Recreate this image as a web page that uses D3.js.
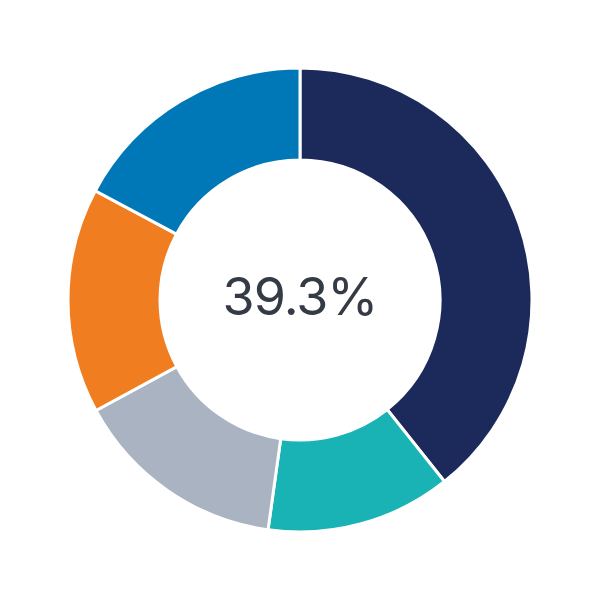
<!DOCTYPE html>
<html>
<head>
<meta charset="utf-8">
<style>
  body { margin: 0; background: #fff; }
</style>
</head>
<body>
<svg id="chart" width="600" height="600"></svg>
<script src="https://d3js.org/d3.v7.min.js"></script>
<script>
    const WIDTH = 600;
    const HEIGHT = 600;

    // segments clockwise from 12 o'clock
    const categories = ['A', 'B', 'C', 'D', 'E'];
    const values = [39.3, 12.9, 14.9, 15.7, 17.2];
    const colors = ['#1b2a5a', '#1ab3b5', '#a9b3c1', '#f07d20', '#0077b6'];
    const centerLabel = '39.3%';

    let svg = d3.select('#chart');
    let g = svg.append('g')
        .attr('transform', `translate(${WIDTH / 2},${HEIGHT / 2})`);

    let pie = d3.pie().sort(null).value(d => d.value);
    let arc = d3.arc().innerRadius(140).outerRadius(232);

    let data = categories.map((c, i) => ({ name: c, value: values[i], color: colors[i] }));

    g.selectAll('path')
        .data(pie(data))
        .join('path')
        .attr('d', arc)
        .attr('fill', d => d.data.color)
        .attr('stroke', '#fff')
        .attr('stroke-width', 3);

    g.append('text')
        .attr('text-anchor', 'middle')
        .attr('y', -3)
        .attr('dy', '0.35em')
        .attr('font-family', 'Inter, sans-serif')
        .attr('font-weight', 400)
        .attr('font-size', 52)
        .attr('letter-spacing', -1)
        .attr('fill', '#353b45')
        .text(centerLabel);
</script>
</body>
</html>
